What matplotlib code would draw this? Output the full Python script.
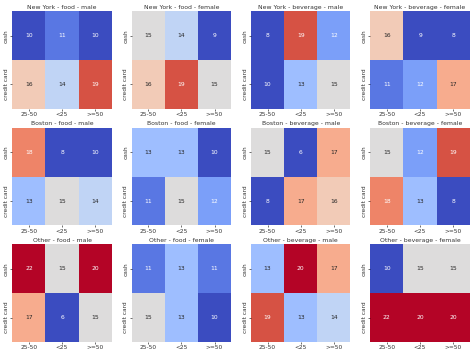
import numpy as np
import matplotlib
matplotlib.use("Agg")
import matplotlib.pyplot as plt
import seaborn as sns

cities = ["New York", "Boston", "Other"]
products = ["food", "beverage"]
genders = ["male", "female"]
payments = ["cash", "credit card"]
ages = ["25-50", "<25", ">=50"]

# counts per panel: rows = payment, cols = age group
new_york_food_male = [[10, 11, 10], [16, 14, 19]]
new_york_food_female = [[15, 14, 9], [16, 19, 15]]
new_york_beverage_male = [[8, 19, 12], [10, 13, 15]]
new_york_beverage_female = [[16, 9, 8], [11, 12, 17]]
boston_food_male = [[18, 8, 10], [13, 15, 14]]
boston_food_female = [[13, 13, 10], [11, 15, 12]]
boston_beverage_male = [[15, 6, 17], [8, 17, 16]]
boston_beverage_female = [[15, 12, 19], [18, 13, 8]]
other_food_male = [[22, 15, 20], [17, 6, 15]]
other_food_female = [[11, 13, 11], [15, 13, 10]]
other_beverage_male = [[13, 20, 17], [19, 13, 14]]
other_beverage_female = [[10, 15, 15], [22, 20, 20]]

panels = [
    [new_york_food_male, new_york_food_female, new_york_beverage_male, new_york_beverage_female],
    [boston_food_male, boston_food_female, boston_beverage_male, boston_beverage_female],
    [other_food_male, other_food_female, other_beverage_male, other_beverage_female],
]

fig, axes = plt.subplots(3, 4, figsize=(4.74, 3.54), dpi=100)
fig.subplots_adjust(left=0.026, right=0.991, top=0.968, bottom=0.034,
                    wspace=0.2, hspace=0.195)

for i, city in enumerate(cities):
    j = 0
    for product in products:
        for gender in genders:
            ax = axes[i, j]
            data = np.array(panels[i][j])
            sns.heatmap(data, ax=ax, annot=True, fmt="d", cmap="coolwarm",
                        vmin=10, vmax=20, cbar=False,
                        xticklabels=ages, yticklabels=payments,
                        annot_kws={"fontsize": 4.3})
            ax.set_title(f"{city} - {product} - {gender}", fontsize=4.4,
                         pad=2, color="#333333")
            ax.tick_params(labelsize=4.2, length=1.5, width=0.4, pad=1,
                           labelcolor="#333333")
            ax.set_xticklabels(ages, rotation=0)
            ax.set_yticklabels(payments, rotation=90, va="center")
            j += 1

plt.savefig("out.png", dpi=100)
